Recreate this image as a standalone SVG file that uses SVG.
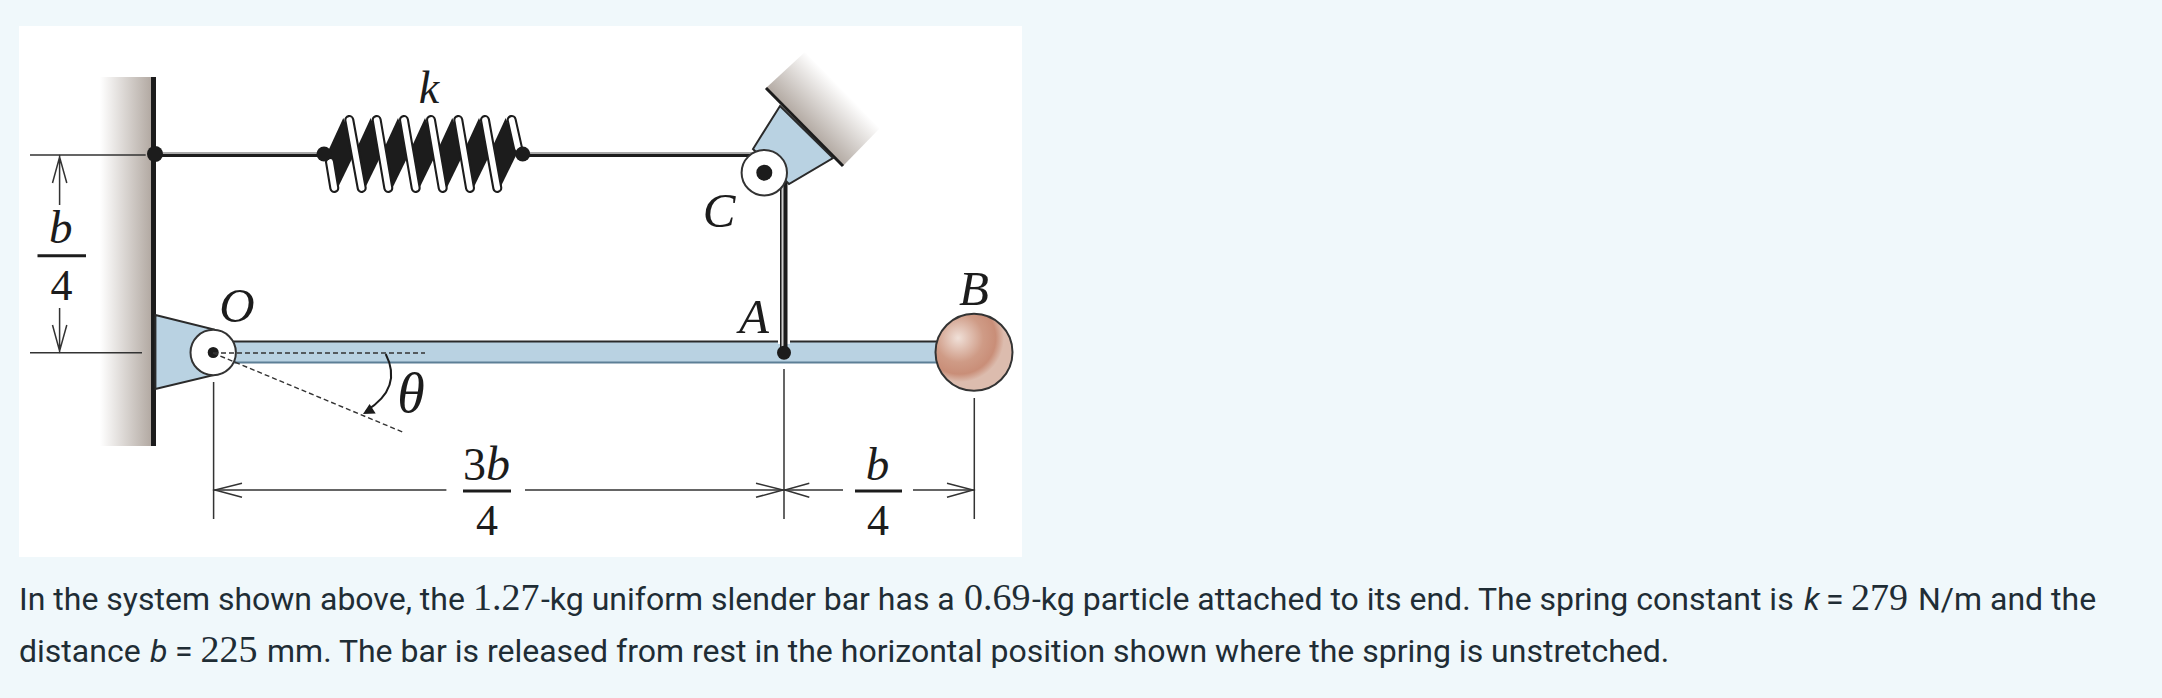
<svg xmlns="http://www.w3.org/2000/svg" xmlns:xlink="http://www.w3.org/1999/xlink" width="2162" height="698" viewBox="0 0 2162 698">
<style>
.m{font-family:"Liberation Serif","Times New Roman",serif;fill:#1c1c1c}
.i{font-style:italic}
.dim{stroke:#333;stroke-width:1.5;fill:none}
.fb{stroke:#1c1c1c;stroke-width:3;fill:none}
.bl{fill:#b9d2e2;stroke:#2a2a2a;stroke-width:2}
.pul{fill:#fff;stroke:#333;stroke-width:2}
.dot{fill:#1c1c1c}
.dash{stroke:#333;stroke-width:1.4;stroke-dasharray:5 3;fill:none}
.t{font-family:Roboto,sans-serif;font-size:32px;fill:#1f2d35}
.n{font-family:"Liberation Serif",serif;font-size:38px}
</style>
<defs>
<linearGradient id="wallG" gradientUnits="userSpaceOnUse" x1="100" y1="0" x2="151" y2="0"><stop offset="0" stop-color="#fff"/><stop offset="1" stop-color="#b3aaa3"/></linearGradient>
<linearGradient id="wall2G" gradientUnits="userSpaceOnUse" x1="805" y1="127" x2="843" y2="90"><stop offset="0" stop-color="#b3aaa3"/><stop offset="1" stop-color="#fff"/></linearGradient>
<radialGradient id="ballG" gradientUnits="userSpaceOnUse" cx="960" cy="338" r="44" fx="958" fy="338"><stop offset="0" stop-color="#f0e0d8"/><stop offset="0.55" stop-color="#cf9b86"/><stop offset="0.82" stop-color="#c98e78"/><stop offset="1" stop-color="#dcbcae"/></radialGradient>
<polygon id="w" points="-6,118 -23,155 -13,191 7,150" fill="#1c1c1c"/>
</defs>
<rect width="2162" height="698" fill="#f0f8fb"/>
<rect x="19" y="26" width="1003" height="531" fill="#fff"/>

<g id="wall-left">
<rect x="100" y="77" width="51" height="369" fill="url(#wallG)"/>
<rect x="151" y="77" width="5" height="369" fill="#1c1c1c"/>
</g>
<g id="wall-top">
<polygon points="766,88 843,166 880,128 805,52" fill="url(#wall2G)"/>
<line x1="766" y1="88" x2="843" y2="166" stroke="#1c1c1c" stroke-width="3"/>
</g>

<g id="bar-OB">
<rect x="225" y="341" width="730" height="22" fill="#b9d2e2"/>
<line x1="225" y1="341.5" x2="950" y2="341.5" stroke="#2a2a2a" stroke-width="2"/>
<line x1="225" y1="362.5" x2="950" y2="362.5" stroke="#5d7f96" stroke-width="2"/>
<rect x="778" y="338" width="12" height="6" fill="#fff"/>
</g>

<g id="connectors">
<rect x="156" y="152" width="170" height="5" fill="#1c1c1c"/>
<rect x="156" y="152" width="170" height="2" fill="#aaa"/>
<rect x="520" y="152" width="245" height="5" fill="#1c1c1c"/>
<rect x="520" y="152" width="245" height="2" fill="#aaa"/>
<rect x="780" y="180" width="7.5" height="172" fill="#1c1c1c"/>
<rect x="781.5" y="180" width="2" height="172" fill="#ccc"/>
<line class="dash" x1="213" y1="353" x2="425" y2="353"/>
<line class="dash" x1="213" y1="353" x2="402.5" y2="432"/>
<path d="M385.7 354Q403 388 366 411" fill="none" stroke="#1c1c1c" stroke-width="2"/>
<polygon points="363,414 375.7,413.5 369.6,404" fill="#1c1c1c"/>
<g class="dim">
<path d="M30 155H145.7M30 352.7H142"/>
<path d="M59.6 155V205M59.6 308V352M52.5 183L59.6 157L66.8 183M52.5 325L59.6 351L66.8 325"/>
<path d="M213.6 382V519M784 369V519M974.3 398V519"/>
<path d="M214 490H446.4M525 490H784M784 490H843M913 490H974"/>
<path d="M242 483.3L215 490L242 497.3M756 483.3L783 490L756 497.3M809.3 483.3L785 490L809.3 497.3M947 483.3L973 490L947 497.3"/>
</g>
</g>

<g id="spring">
<use href="#w" x="349.3"/><use href="#w" x="376.7"/><use href="#w" x="404"/><use href="#w" x="431"/><use href="#w" x="458.3"/><use href="#w" x="485"/><use href="#w" x="511.7"/>
<path d="M330 162L334.3 188M349.3 120L361.7 188M376.7 120L388.3 188M404 120L415.7 188M431 120L442.7 188M458.3 120L470 188M485 120L497.3 188M511.7 120L518 148" fill="none" stroke="#1c1c1c" stroke-width="10" stroke-linecap="round"/>
<path d="M330 162L334.3 188M349.3 120L361.7 188M376.7 120L388.3 188M404 120L415.7 188M431 120L442.7 188M458.3 120L470 188M485 120L497.3 188M511.7 120L518 148" fill="none" stroke="#fff" stroke-width="5.8" stroke-linecap="round"/>
<circle class="dot" cx="324" cy="154" r="7.5"/>
<circle class="dot" cx="522.7" cy="154" r="7.5"/>
<circle class="dot" cx="155" cy="154" r="8"/>
</g>

<g id="pivot-O">
<polygon class="bl" points="155.4,315 214,329.5 214,375 155.4,389"/>
<circle class="pul" cx="213.2" cy="352.5" r="22.7"/>
<circle class="dot" cx="213.2" cy="352.5" r="5.5"/>
<line class="dash" x1="213" y1="353" x2="236" y2="353"/>
<line class="dash" x1="213" y1="353" x2="236" y2="362.6"/>
</g>
<g id="pivot-C">
<polygon class="bl" points="780,106 833,158 789,184 753,149"/>
<circle class="pul" cx="764.3" cy="172.7" r="22.7"/>
<circle class="dot" cx="764.3" cy="172.7" r="8"/>
</g>
<g id="point-A"><circle class="dot" cx="784" cy="352.7" r="7"/></g>
<g id="ball-B"><circle cx="974" cy="352.3" r="38.5" fill="url(#ballG)" stroke="#333" stroke-width="2"/></g>

<g id="labels">
<text class="m i" x="429" y="102.7" font-size="46" text-anchor="middle">k</text>
<text class="m i" x="60.7" y="243" font-size="47" text-anchor="middle">b</text>
<line class="fb" x1="37.5" y1="255.7" x2="86" y2="255.7"/>
<text class="m" x="61.5" y="300" font-size="44" text-anchor="middle">4</text>
<text class="m i" x="237" y="322" font-size="49" text-anchor="middle">O</text>
<text class="m i" x="719" y="226.7" font-size="49" text-anchor="middle">C</text>
<text class="m i" x="974" y="305" font-size="49" text-anchor="middle">B</text>
<text class="m i" x="754" y="332.7" font-size="49" text-anchor="middle">A</text>
<text class="m i" x="411" y="411.7" font-size="56" text-anchor="middle">θ</text>
<text class="m" x="486.5" y="480" font-size="46" text-anchor="middle">3<tspan class="i" font-size="48">b</tspan></text>
<line class="fb" x1="463" y1="491" x2="511" y2="491"/>
<text class="m" x="487" y="535" font-size="44" text-anchor="middle">4</text>
<text class="m i" x="877.5" y="480" font-size="47" text-anchor="middle">b</text>
<line class="fb" x1="855" y1="491" x2="902" y2="491"/>
<text class="m" x="878" y="535" font-size="44" text-anchor="middle">4</text>
</g>

<text class="t" y="610"><tspan x="19">In the system shown above, the</tspan> <tspan class="n" x="473">1.27</tspan><tspan x="541">-kg uniform slender bar has a</tspan> <tspan class="n" x="964">0.69</tspan><tspan x="1032">-kg particle attached to its end. The spring constant is</tspan> <tspan font-style="italic" x="1804">k</tspan> <tspan x="1826">=</tspan> <tspan class="n" x="1851">279</tspan> <tspan x="1918">N/m and the</tspan></text>
<text class="t" y="662"><tspan x="19">distance</tspan> <tspan font-style="italic" x="150">b</tspan> <tspan x="175">=</tspan> <tspan class="n" x="200.5">225</tspan> <tspan x="267">mm. The bar is released from rest in the horizontal position shown where the spring is unstretched.</tspan></text>
</svg>
